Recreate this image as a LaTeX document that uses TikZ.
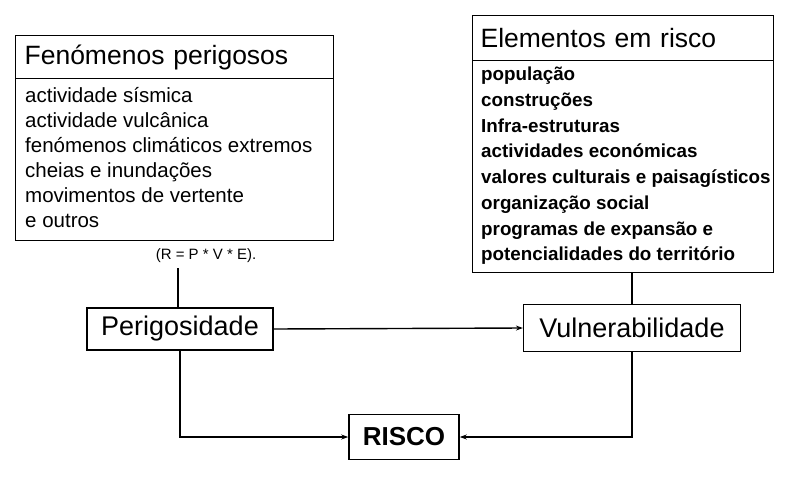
\documentclass[tikz,border=0pt]{standalone}
\usepackage{fontspec}
\setmainfont{Liberation Sans}
\usetikzlibrary{arrows.meta}
\begin{document}
\begin{tikzpicture}[x=1pt,y=-1pt,
  bx/.style={draw,line width=1.2pt,inner sep=0pt},
  lst/.style={align=left,anchor=north west,inner sep=0pt,font=\fontsize{20.5}{25}\selectfont},
  big/.style={font=\fontsize{27}{30}\selectfont},
  ln/.style={line width=1.4pt},
  ar/.style={line width=1.4pt,-{Stealth[length=7pt,width=5pt]}}]
\useasboundingbox (0,0) rectangle (809,480);
% left
\node[bx,minimum width=318pt,minimum height=43pt,anchor=north west,font=\fontsize{26.5}{30}\selectfont,text width=300pt,align=left] (lt) at (15,35) {Fenómenos perigosos};
\node[bx,minimum width=318pt,minimum height=162pt,anchor=north west] (lb) at (15,78) {};
\node[lst] (ll) at (25,87) {actividade sísmica\\actividade vulcânica\\fenómenos climáticos extremos\\cheias e inundações\\movimentos de vertente\\e outros};
\node[fill=white,inner sep=2pt,font=\fontsize{15}{18}\selectfont] (f) at (206,256) {(R = P * V * E).};
% right
\node[bx,minimum width=301pt,minimum height=45pt,anchor=north west,font=\fontsize{26.5}{30}\selectfont,text width=285pt,align=left] (rt) at (472,15) {Elementos em risco};
\node[bx,minimum width=301pt,minimum height=212pt,anchor=north west] (rb) at (472,60) {};
\node[lst,font=\bfseries\fontsize{18.8}{25.7}\selectfont] (rl) at (481,67) {população\\construções\\Infra-estruturas\\actividades económicas\\valores culturais e paisagísticos\\organização social\\programas de expansão e\\potencialidades do território};
% middle
\node[bx,minimum width=186pt,minimum height=42pt,big] (p) at (180,329) {Perigosidade};
\node[bx,minimum width=217pt,minimum height=47pt,big] (v) at (632,328) {Vulnerabilidade};
\node[bx,line width=1.6pt,minimum width=110pt,minimum height=45pt,font=\bfseries\fontsize{26}{30}\selectfont] (r) at (404,437) {RISCO};
\draw[ln] (178,268) -- (p.north -| 178,0);
\draw[ln] (rb.south -| v.north) -- (v.north);
\draw[ar] (p.east) -- (v.west);
\draw[ar] (p.south) |- (r.west);
\draw[ar] (v.south) |- (r.east);
\end{tikzpicture}
\end{document}
